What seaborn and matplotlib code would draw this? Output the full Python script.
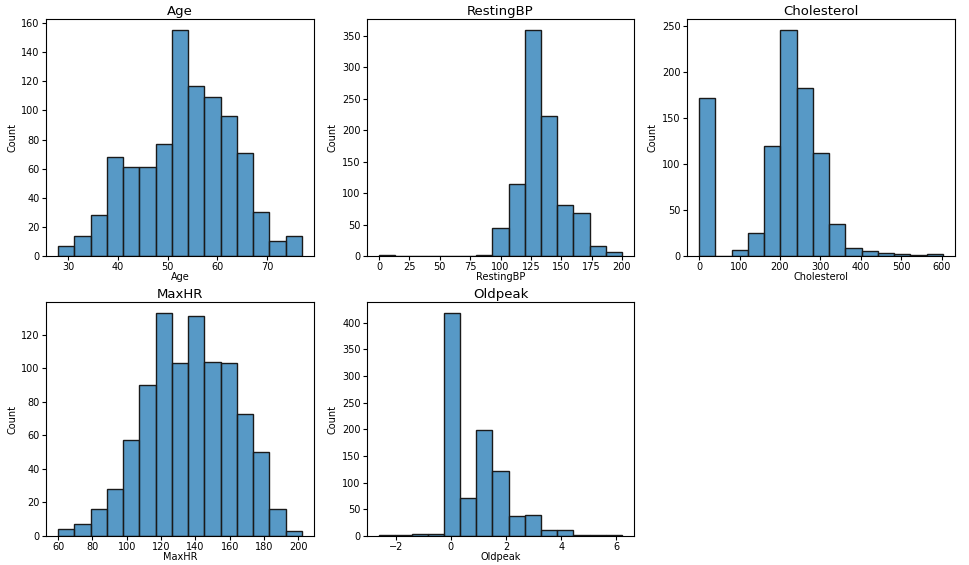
import numpy as np
import pandas as pd
import matplotlib
matplotlib.use("Agg")
import matplotlib.pyplot as plt
import seaborn as sns

# bin range (min, max) and counts per bin, 15 bins each
features = ["Age", "RestingBP", "Cholesterol", "MaxHR", "Oldpeak"]

age_range = (28, 77)
age_counts = [7, 14, 28, 68, 61, 61, 77, 155, 117, 109, 96, 71, 30, 10, 14]

bp_range = (0, 200)
bp_counts = [1, 0, 0, 0, 0, 0, 2, 44, 114, 359, 223, 81, 68, 16, 7]

chol_range = (0, 603)
chol_counts = [172, 0, 6, 25, 119, 245, 182, 112, 35, 9, 5, 3, 2, 1, 2]

hr_range = (60, 202)
hr_counts = [4, 7, 16, 28, 57, 90, 133, 103, 131, 104, 103, 73, 50, 16, 3]

op_range = (-2.6, 6.2)
op_counts = [1, 2, 4, 4, 418, 71, 198, 122, 37, 40, 12, 12, 1, 1, 1]

ranges = [age_range, bp_range, chol_range, hr_range, op_range]
counts = [age_counts, bp_counts, chol_counts, hr_counts, op_counts]

fig = plt.figure(figsize=(9.69, 5.65), dpi=100)

# axes boxes in pixels: left, right, top, bottom
lefts = [46, 367, 687]
rights = [314, 634, 955]
tops = [19, 302]
bottoms = [256, 536]
W, H = 969, 565

for i, name in enumerate(features):
    r, c = divmod(i, 3)
    ax = fig.add_axes([lefts[c] / W, 1 - bottoms[r] / H,
                       (rights[c] - lefts[c]) / W, (bottoms[r] - tops[r]) / H])
    edges = np.linspace(ranges[i][0], ranges[i][1], len(counts[i]) + 1)
    df = pd.DataFrame({name: (edges[:-1] + edges[1:]) / 2, "n": counts[i]})
    sns.histplot(data=df, x=name, weights="n", bins=list(edges), ax=ax,
                 color="#1f77b4", alpha=0.75, edgecolor="#1a1a1a", linewidth=1)
    ax.set_title(name, fontsize=9.5, pad=3)
    ax.set_xlabel(name, fontsize=7, labelpad=0)
    ax.set_ylabel("Count", fontsize=7, labelpad=3)
    ax.tick_params(labelsize=7, length=3, pad=1.5)

fig.savefig("out.png", dpi=100)
